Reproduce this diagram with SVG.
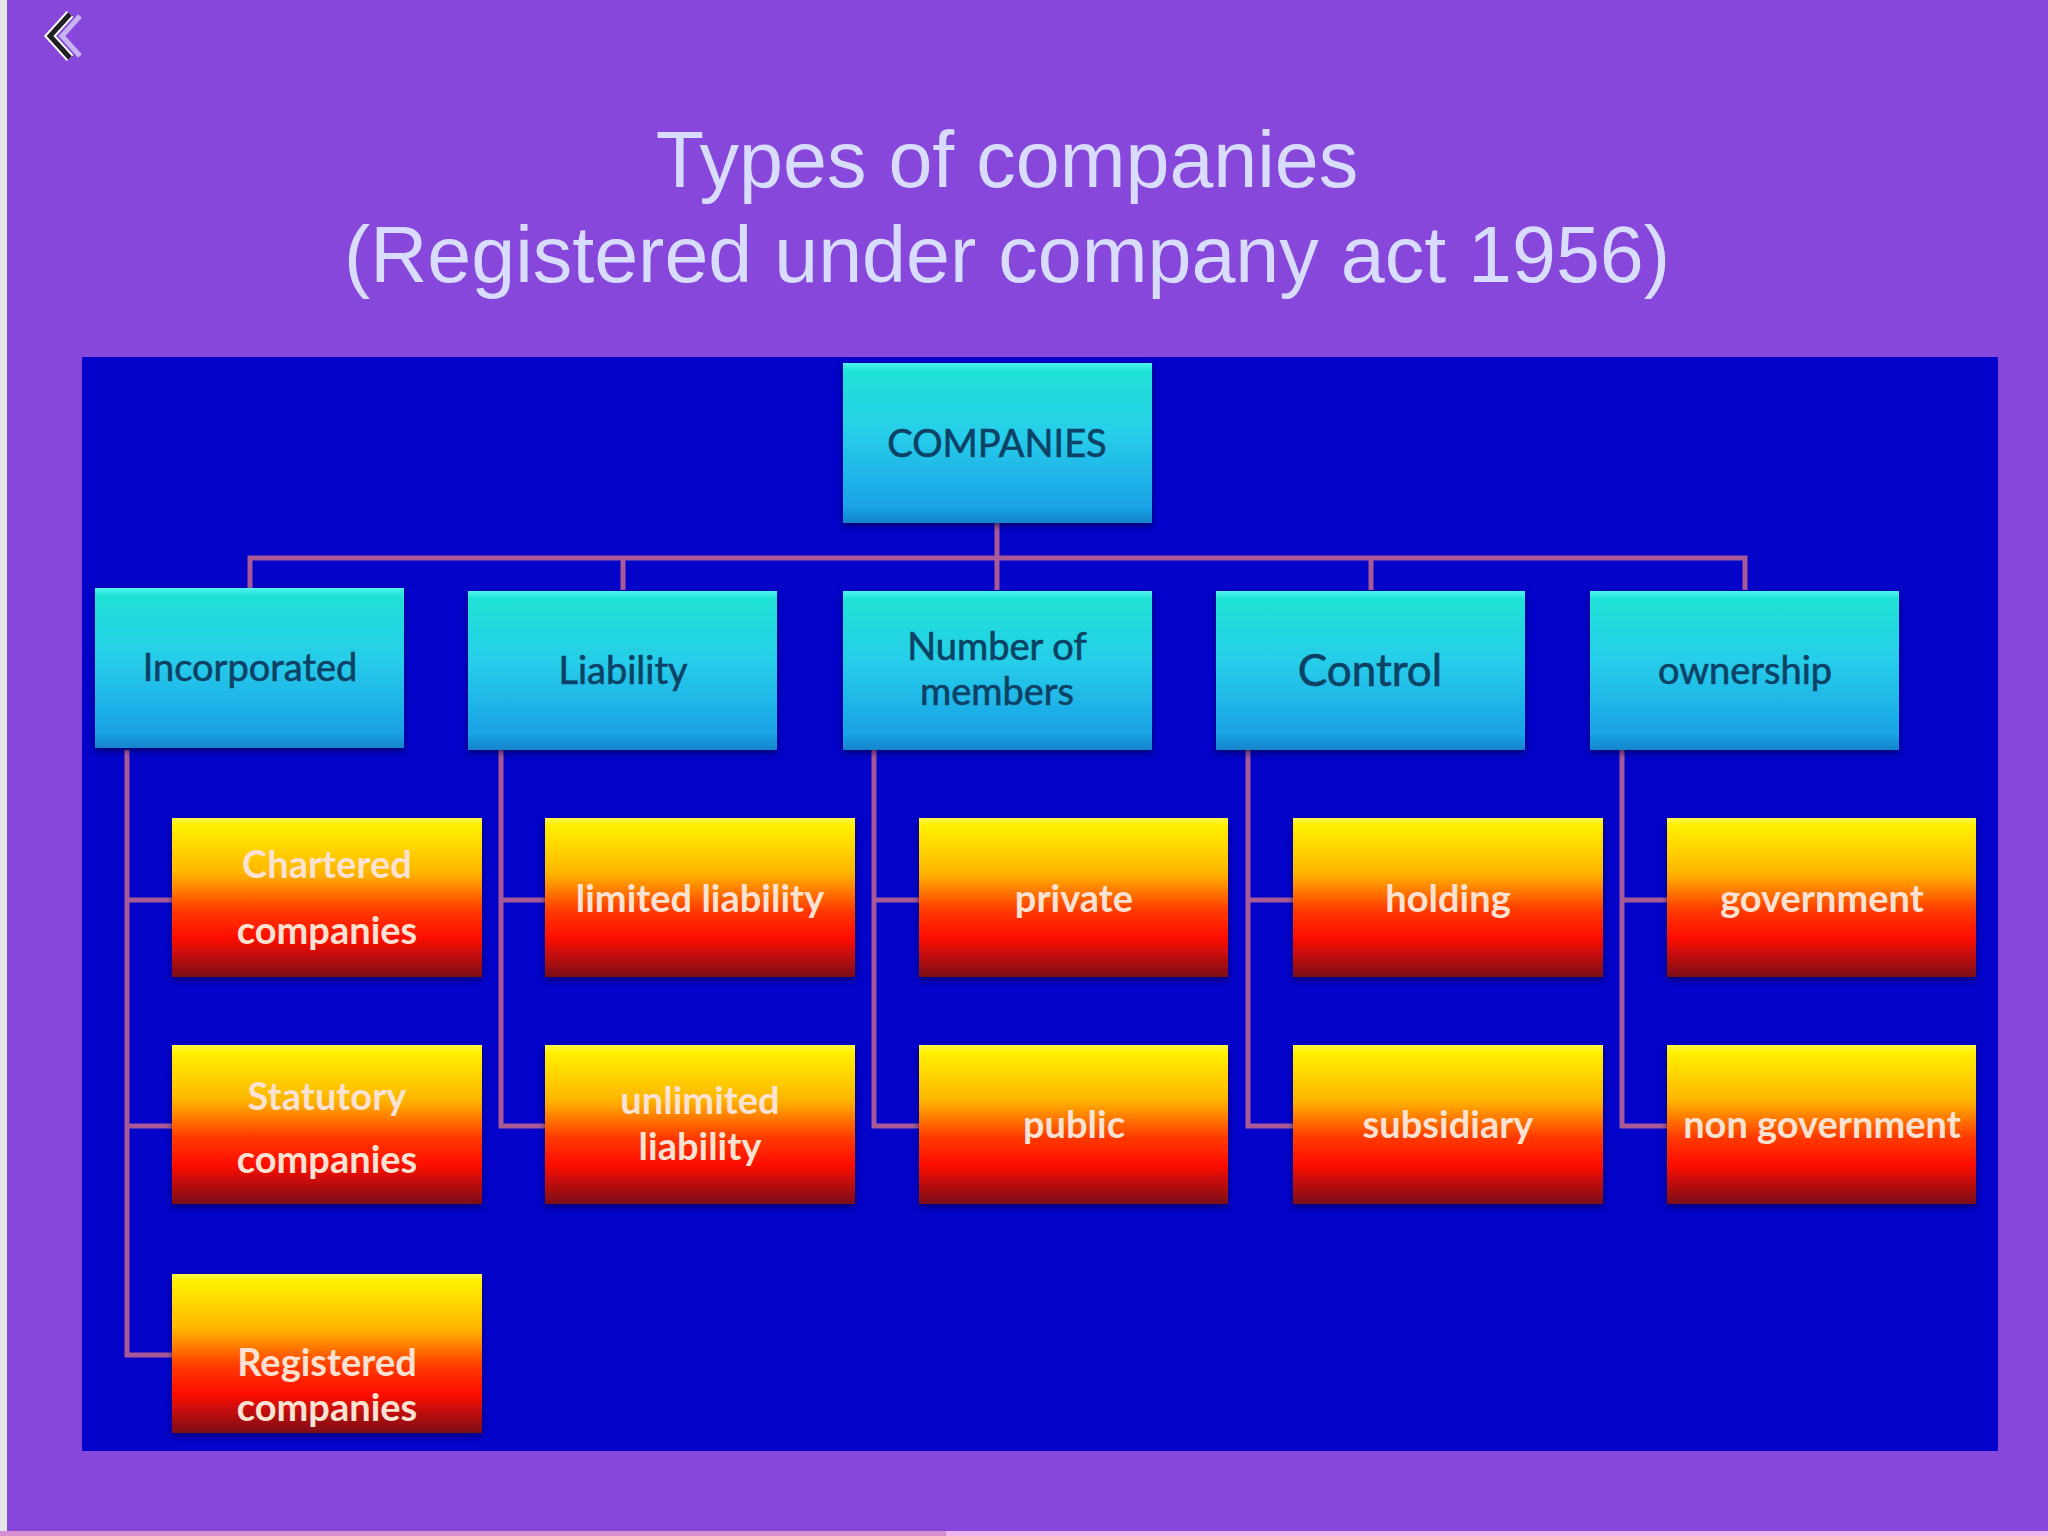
<svg xmlns="http://www.w3.org/2000/svg" width="2048" height="1536" viewBox="0 0 2048 1536">
<defs>
<linearGradient id="gCyan" x1="0" y1="0" x2="0" y2="1">
<stop offset="0" stop-color="#50f4f0"/>
<stop offset="0.05" stop-color="#1fe2d6"/>
<stop offset="0.45" stop-color="#27cdea"/>
<stop offset="0.9" stop-color="#1aa2e6"/>
<stop offset="1" stop-color="#1384cc"/>
</linearGradient>
<linearGradient id="gFire" x1="0" y1="0" x2="0" y2="1">
<stop offset="0" stop-color="#fff64a"/>
<stop offset="0.05" stop-color="#fff000"/>
<stop offset="0.35" stop-color="#ffb400"/>
<stop offset="0.58" stop-color="#ff3a00"/>
<stop offset="0.75" stop-color="#ff0e00"/>
<stop offset="1" stop-color="#7a0a18"/>
</linearGradient>
<filter id="shadow" x="-5%" y="-5%" width="110%" height="115%">
<feDropShadow dx="0" dy="3" stdDeviation="3" flood-color="#000033" flood-opacity="0.6"/>
</filter>
</defs>
<style>
.title{font-family:"Liberation Sans",Arial,sans-serif;font-size:79px;fill:#d8dcff;text-anchor:middle}
.cyan{fill:url(#gCyan);filter:url(#shadow)}
.fire{fill:url(#gFire);filter:url(#shadow)}
.t2{font-family:Lato,"Open Sans",sans-serif;font-size:38px;fill:#0b4265;stroke:#0b4265;stroke-width:0.6;text-anchor:middle}
.t3{font-family:Lato,"Open Sans",sans-serif;font-size:38px;font-weight:bold;fill:#fbe2d2;text-anchor:middle}
.conn{fill:none;stroke:#a85a98;stroke-width:5}
</style>
<rect x="0" y="0" width="2048" height="1536" fill="#8647da"/>
<rect x="0" y="0" width="7" height="1536" fill="#e6e6e6"/>
<rect x="0" y="1531" width="946" height="5" fill="#d88ed2"/>
<rect x="946" y="1531" width="1102" height="5" fill="#f0b4f0"/>
<g id="back-icon" fill="none" stroke-linejoin="miter">
<polyline points="70,14 50,36 70,58" stroke="#ffffff" stroke-width="9"/>
<polyline points="70,14 50,36 70,58" stroke="#222222" stroke-width="5"/>
<polyline points="80,16 62,36 80,56" stroke="#c8b4f0" stroke-width="5"/>
</g>
<g id="title">
<text class="title" x="1007" y="187">Types of companies</text>
<text class="title" x="1007" y="282">(Registered under company act 1956)</text>
</g>
<rect id="panel" x="82" y="357" width="1916" height="1094" fill="#0202c9"/>
<g id="connectors" class="conn">
<path d="M997,523 V558"/>
<path d="M250,590 V558 H1745 V590"/>
<path d="M623,558 V590"/>
<path d="M997,558 V590"/>
<path d="M1371,558 V590"/>
<path d="M127,750 V1355 H172"/>
<path d="M127,900 H172"/>
<path d="M127,1126 H172"/>
<path d="M501,750 V1126 H545"/>
<path d="M501,900 H545"/>
<path d="M874,750 V1126 H919"/>
<path d="M874,900 H919"/>
<path d="M1248,750 V1126 H1293"/>
<path d="M1248,900 H1293"/>
<path d="M1622,750 V1126 H1667"/>
<path d="M1622,900 H1667"/>
</g>
<g id="n-companies"><rect class="cyan" x="843" y="363" width="309" height="160"/><text class="t2" x="997" y="457">COMPANIES</text></g>
<g id="n-incorporated"><rect class="cyan" x="95" y="588" width="309" height="160"/><text class="t2" x="250" y="681">Incorporated</text></g>
<g id="n-liability"><rect class="cyan" x="468" y="591" width="309" height="159"/><text class="t2" x="623" y="684">Liability</text></g>
<g id="n-members"><rect class="cyan" x="843" y="591" width="309" height="159"/><text class="t2" x="997" y="660">Number of</text><text class="t2" x="997" y="705">members</text></g>
<g id="n-control"><rect class="cyan" x="1216" y="591" width="309" height="159"/><text class="t2" x="1370" y="686" style="font-size:44px">Control</text></g>
<g id="n-ownership"><rect class="cyan" x="1590" y="591" width="309" height="159"/><text class="t2" x="1745" y="684">ownership</text></g>
<g id="n-chartered"><rect class="fire" x="172" y="818" width="310" height="159"/><text class="t3" x="327" y="878">Chartered</text><text class="t3" x="327" y="944">companies</text></g>
<g id="n-statutory"><rect class="fire" x="172" y="1045" width="310" height="159"/><text class="t3" x="327" y="1110">Statutory</text><text class="t3" x="327" y="1173">companies</text></g>
<g id="n-registered"><rect class="fire" x="172" y="1274" width="310" height="159"/><text class="t3" x="327" y="1376">Registered</text><text class="t3" x="327" y="1421">companies</text></g>
<g id="n-limited"><rect class="fire" x="545" y="818" width="310" height="159"/><text class="t3" x="700" y="912">limited liability</text></g>
<g id="n-unlimited"><rect class="fire" x="545" y="1045" width="310" height="159"/><text class="t3" x="700" y="1114">unlimited</text><text class="t3" x="700" y="1160">liability</text></g>
<g id="n-private"><rect class="fire" x="919" y="818" width="309" height="159"/><text class="t3" x="1074" y="912">private</text></g>
<g id="n-public"><rect class="fire" x="919" y="1045" width="309" height="159"/><text class="t3" x="1074" y="1138">public</text></g>
<g id="n-holding"><rect class="fire" x="1293" y="818" width="310" height="159"/><text class="t3" x="1448" y="912">holding</text></g>
<g id="n-subsidiary"><rect class="fire" x="1293" y="1045" width="310" height="159"/><text class="t3" x="1448" y="1138">subsidiary</text></g>
<g id="n-government"><rect class="fire" x="1667" y="818" width="309" height="159"/><text class="t3" x="1822" y="912">government</text></g>
<g id="n-nongovernment"><rect class="fire" x="1667" y="1045" width="309" height="159"/><text class="t3" x="1822" y="1138">non government</text></g>
</svg>
